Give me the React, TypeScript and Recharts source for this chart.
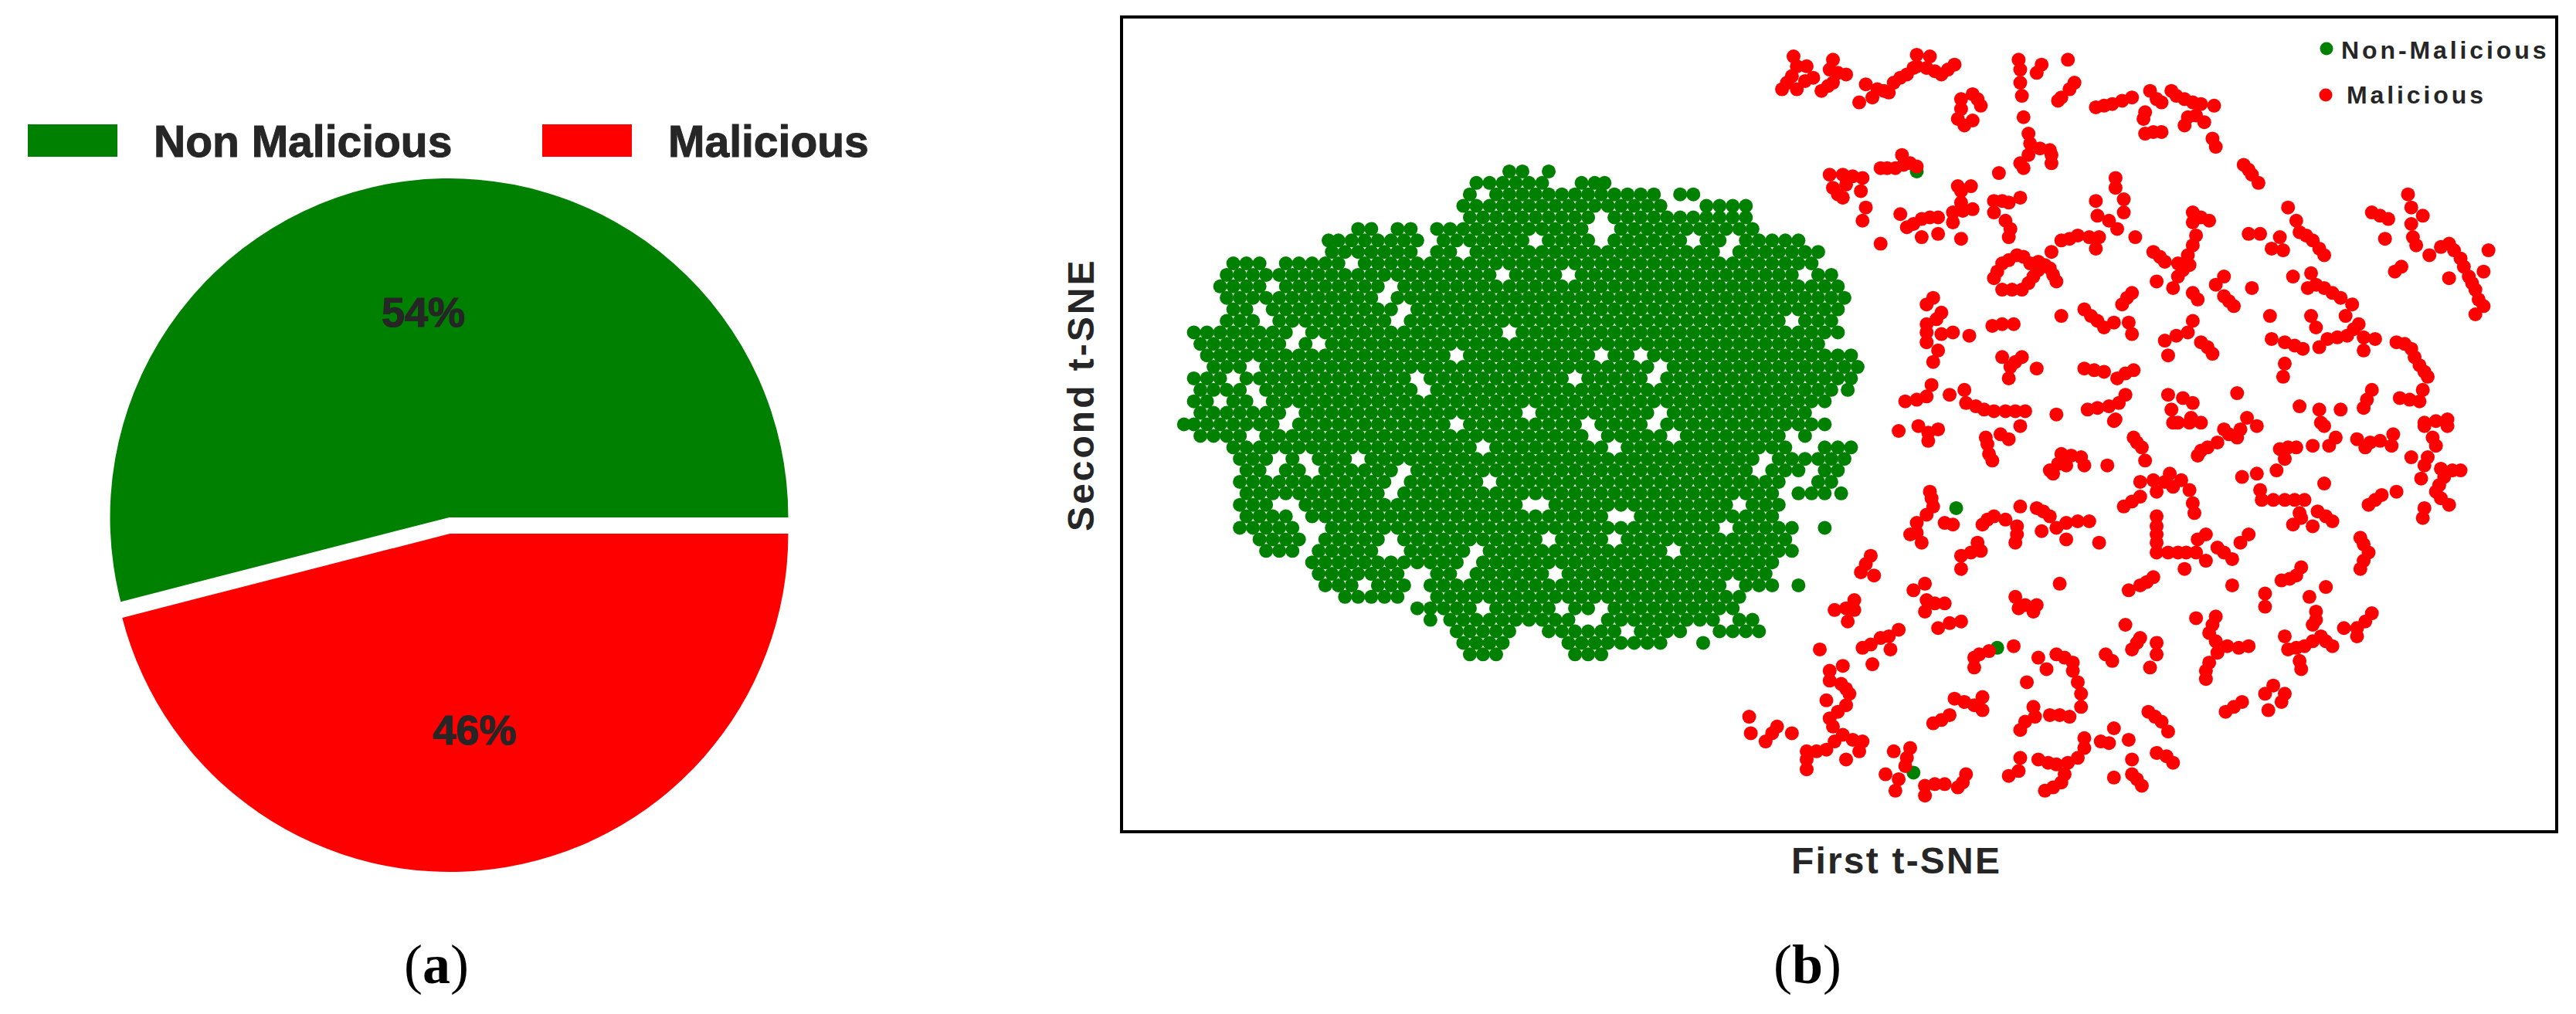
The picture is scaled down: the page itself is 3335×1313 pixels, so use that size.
import React from "react";
import {
  Cell,
  Legend,
  Pie,
  PieChart,
  ReferenceArea,
  Scatter,
  ScatterChart,
  XAxis,
  YAxis,
} from "recharts";

const GREEN = "#008000";
const RED = "#ff0000";
const INK = "#262626";

const shareNames = ["Non Malicious", "Malicious"];
const shareValues = [54, 46];
const labelRadius = [0.61, 0.585];
const scatterNames = ["Non-Malicious", "Malicious"];

// t-SNE embedding. Arbitrary units, origin at top left of the frame.
// Each row is [y, x, x, x, ...]
const nonMaliciousRows: number[][] = [
  [94, 236, 244, 260],
  [101, 216, 224, 232, 240, 248, 256, 280, 288, 294],
  [108, 212, 228, 236, 244, 252, 260, 268, 276, 284, 292, 300, 308, 316, 324, 340, 348],
  [115, 208, 216, 224, 232, 240, 248, 256, 264, 272, 280, 288, 296, 304, 312, 320, 328, 356, 364, 372, 380],
  [122, 212, 220, 228, 236, 244, 252, 260, 268, 276, 284, 300, 308, 316, 324, 332, 340, 348, 356, 364, 372, 380],
  [129, 144, 152, 168, 176, 192, 200, 208, 216, 224, 232, 240, 248, 256, 264, 272, 280, 304, 312, 320, 328, 336, 344, 352, 360, 368, 376, 384],
  [136, 126, 132, 140, 148, 156, 164, 172, 180, 196, 204, 212, 220, 228, 236, 244, 260, 268, 276, 284, 300, 308, 316, 324, 332, 340, 356, 364, 380, 388, 396, 404, 412],
  [143, 128, 136, 144, 152, 160, 168, 176, 192, 200, 216, 224, 232, 240, 248, 256, 264, 272, 280, 288, 296, 304, 312, 320, 328, 336, 344, 352, 360, 376, 384, 392, 400, 408, 416, 424],
  [150, 68, 76, 84, 100, 108, 116, 124, 132, 148, 156, 164, 172, 180, 188, 196, 204, 212, 220, 228, 236, 244, 252, 260, 268, 276, 284, 292, 300, 308, 316, 324, 332, 340, 348, 356, 364, 372, 380, 388, 396, 404, 412, 420],
  [157, 64, 72, 80, 88, 96, 104, 112, 120, 128, 136, 144, 152, 160, 168, 176, 184, 192, 200, 208, 216, 224, 240, 248, 256, 264, 280, 288, 296, 304, 312, 320, 328, 336, 344, 352, 360, 368, 376, 384, 392, 400, 408, 424, 432],
  [164, 60, 68, 76, 84, 100, 108, 116, 124, 132, 140, 148, 156, 172, 180, 188, 196, 204, 212, 220, 228, 236, 244, 252, 260, 268, 276, 284, 292, 300, 308, 316, 324, 332, 340, 348, 356, 364, 372, 380, 388, 396, 404, 412, 420, 428, 436],
  [171, 64, 72, 80, 88, 96, 104, 112, 120, 128, 136, 144, 152, 168, 176, 184, 192, 200, 208, 216, 224, 232, 240, 248, 256, 264, 272, 280, 288, 296, 304, 312, 320, 328, 336, 344, 352, 360, 368, 376, 384, 392, 400, 408, 416, 424, 432, 440],
  [178, 68, 76, 92, 100, 108, 116, 124, 132, 140, 148, 156, 164, 180, 188, 196, 204, 212, 220, 228, 236, 244, 252, 260, 268, 276, 284, 292, 300, 308, 316, 324, 332, 340, 348, 356, 364, 372, 380, 388, 396, 404, 412, 420, 428, 436],
  [185, 64, 72, 80, 96, 104, 112, 120, 128, 136, 144, 152, 160, 176, 184, 192, 200, 208, 216, 224, 232, 240, 248, 256, 264, 272, 280, 288, 296, 304, 312, 320, 328, 336, 344, 352, 360, 368, 376, 384, 392, 400, 416, 424, 432],
  [192, 44, 52, 60, 68, 76, 84, 92, 100, 116, 124, 132, 140, 148, 156, 164, 172, 180, 188, 196, 204, 212, 220, 228, 244, 252, 260, 268, 276, 284, 292, 300, 308, 316, 324, 332, 340, 348, 356, 364, 372, 380, 388, 396, 404, 412, 420, 428, 436],
  [199, 48, 56, 64, 72, 80, 88, 96, 112, 128, 136, 144, 152, 160, 168, 176, 184, 192, 200, 208, 216, 224, 232, 240, 248, 256, 264, 272, 280, 288, 296, 304, 312, 320, 328, 336, 344, 352, 360, 368, 376, 384, 392, 400, 408, 416, 424],
  [206, 52, 60, 68, 76, 84, 92, 100, 108, 116, 124, 132, 140, 148, 156, 164, 172, 180, 188, 196, 212, 220, 228, 236, 244, 252, 260, 268, 276, 284, 300, 308, 324, 332, 340, 348, 356, 364, 372, 380, 388, 396, 404, 412, 420, 428, 436, 444],
  [213, 56, 64, 72, 88, 96, 104, 112, 120, 128, 136, 144, 152, 160, 168, 176, 184, 192, 200, 208, 216, 224, 232, 240, 248, 256, 264, 272, 280, 288, 296, 304, 312, 320, 336, 344, 352, 360, 368, 376, 384, 392, 400, 408, 416, 424, 432, 440, 448],
  [220, 44, 52, 60, 76, 84, 92, 100, 108, 116, 124, 132, 140, 148, 156, 164, 172, 188, 196, 204, 212, 220, 228, 236, 244, 252, 260, 268, 284, 292, 300, 308, 316, 332, 340, 348, 356, 364, 372, 380, 388, 396, 404, 412, 420, 428, 436, 444],
  [227, 48, 56, 64, 72, 88, 96, 104, 112, 120, 128, 136, 144, 152, 160, 168, 176, 192, 200, 208, 216, 224, 232, 240, 248, 256, 264, 272, 280, 288, 296, 304, 312, 320, 328, 336, 344, 352, 360, 368, 376, 384, 392, 400, 408, 416, 424, 432, 442],
  [234, 44, 52, 68, 76, 92, 100, 108, 116, 124, 132, 140, 148, 156, 164, 172, 180, 188, 196, 204, 212, 220, 228, 236, 244, 252, 260, 268, 276, 284, 292, 300, 308, 316, 324, 332, 340, 348, 356, 364, 372, 380, 388, 396, 404, 412, 420, 428],
  [241, 48, 56, 64, 72, 80, 88, 96, 112, 120, 128, 136, 144, 152, 160, 168, 176, 184, 192, 200, 208, 216, 224, 232, 240, 256, 264, 272, 280, 288, 296, 304, 312, 320, 336, 344, 352, 360, 368, 376, 384, 392, 400, 408, 416],
  [248, 38, 44, 52, 60, 68, 76, 84, 92, 108, 116, 124, 132, 140, 148, 156, 164, 172, 180, 188, 196, 212, 220, 228, 236, 244, 252, 260, 268, 276, 292, 300, 308, 316, 332, 340, 348, 356, 364, 372, 380, 388, 396, 404, 412, 420, 428],
  [255, 48, 56, 64, 72, 88, 96, 104, 112, 120, 128, 136, 144, 152, 160, 168, 176, 184, 192, 200, 208, 216, 224, 232, 240, 248, 256, 264, 272, 280, 296, 304, 312, 320, 328, 344, 352, 360, 368, 376, 384, 392, 400, 416],
  [262, 68, 76, 84, 92, 100, 108, 116, 124, 132, 140, 148, 156, 164, 172, 180, 188, 196, 204, 212, 228, 236, 244, 252, 260, 268, 276, 284, 292, 308, 316, 324, 332, 340, 348, 356, 364, 372, 380, 388, 396, 404, 428, 436, 444],
  [269, 72, 80, 88, 104, 120, 128, 136, 152, 160, 168, 176, 184, 192, 200, 208, 216, 224, 232, 240, 248, 256, 264, 272, 280, 288, 296, 304, 312, 320, 328, 336, 344, 352, 360, 368, 376, 384, 400, 408, 416, 424, 432, 440],
  [276, 76, 84, 100, 108, 124, 132, 140, 148, 156, 164, 180, 188, 196, 204, 212, 220, 228, 236, 244, 252, 260, 268, 276, 284, 292, 300, 308, 316, 324, 332, 340, 348, 356, 364, 372, 380, 396, 404, 412, 428, 436],
  [283, 72, 80, 88, 96, 104, 112, 120, 128, 136, 144, 152, 160, 176, 184, 192, 200, 208, 216, 232, 240, 248, 256, 264, 272, 280, 288, 296, 304, 312, 320, 328, 336, 344, 352, 360, 368, 376, 384, 392, 400, 424, 432],
  [290, 76, 84, 92, 100, 108, 116, 124, 132, 140, 148, 156, 172, 180, 188, 196, 204, 212, 220, 228, 236, 244, 252, 260, 268, 276, 284, 292, 300, 308, 316, 324, 332, 340, 348, 356, 364, 372, 380, 388, 396, 412, 420, 428, 438],
  [297, 72, 80, 88, 112, 120, 128, 136, 144, 152, 160, 168, 176, 184, 192, 200, 208, 216, 224, 232, 240, 264, 272, 280, 288, 296, 304, 312, 320, 328, 336, 344, 352, 360, 368, 384, 392, 400],
  [304, 76, 84, 92, 100, 116, 124, 132, 140, 148, 156, 164, 172, 180, 188, 196, 204, 212, 220, 228, 236, 244, 252, 260, 268, 276, 284, 292, 316, 324, 332, 340, 348, 356, 364, 372, 380, 388, 396],
  [311, 72, 80, 88, 96, 104, 128, 136, 144, 152, 160, 168, 176, 184, 192, 200, 208, 216, 224, 232, 240, 248, 256, 264, 272, 280, 288, 296, 304, 312, 320, 328, 336, 344, 352, 360, 376, 384, 392, 400, 408, 428],
  [318, 84, 92, 100, 108, 124, 132, 140, 148, 156, 172, 180, 188, 196, 204, 212, 220, 228, 236, 244, 252, 268, 276, 284, 292, 308, 316, 324, 332, 340, 348, 356, 364, 372, 380, 388, 396, 404],
  [325, 88, 96, 104, 120, 128, 136, 144, 152, 176, 184, 192, 200, 208, 224, 232, 240, 248, 256, 264, 272, 280, 288, 296, 304, 312, 320, 328, 344, 352, 360, 368, 376, 384, 392, 400, 408],
  [332, 116, 124, 132, 140, 148, 156, 164, 172, 180, 188, 196, 204, 220, 228, 236, 244, 252, 260, 268, 276, 284, 292, 300, 308, 316, 324, 332, 340, 348, 356, 364, 372, 380, 388, 396],
  [339, 120, 128, 136, 144, 152, 160, 168, 192, 200, 216, 224, 232, 240, 248, 256, 272, 280, 288, 296, 304, 312, 320, 328, 336, 344, 352, 360, 368, 376, 384, 392],
  [346, 124, 132, 140, 156, 164, 172, 188, 196, 204, 212, 220, 228, 236, 244, 252, 260, 268, 276, 284, 292, 300, 308, 316, 324, 332, 340, 348, 356, 364, 380, 388, 396, 412],
  [353, 136, 144, 152, 160, 168, 192, 200, 208, 216, 224, 232, 240, 248, 256, 264, 272, 280, 288, 296, 304, 312, 320, 328, 336, 344, 352, 360, 368, 376],
  [360, 180, 188, 196, 204, 212, 228, 236, 244, 252, 260, 276, 284, 300, 308, 316, 324, 332, 340, 348, 356, 364, 372],
  [367, 188, 200, 208, 216, 224, 232, 240, 248, 256, 264, 272, 296, 304, 312, 320, 328, 336, 344, 352, 360, 376, 384],
  [374, 204, 212, 220, 228, 236, 260, 268, 276, 284, 292, 300, 316, 324, 332, 340, 364, 372, 380, 388],
  [381, 208, 216, 224, 232, 272, 280, 288, 296, 304, 312, 320, 328, 354],
  [388, 212, 220, 228, 276, 284, 292],
];

// points that sit almost hidden under the red ones, plus one stray
const nonMaliciousStrays: number[][] = [[484, 94], [533, 384], [482, 460], [508, 299]];

const maliciousPoints: number[][] = [
  [409, 24], [411, 30], [408, 36], [405, 40], [402, 44], [411, 44], [417, 30], [421, 37], [416, 39], [426, 45], [430, 42], [433, 40], [433, 26], [431, 32], [436, 34], [441, 35],
  [449, 52], [453, 41], [460, 44], [457, 49], [464, 45], [467, 46], [470, 40], [474, 37], [478, 35], [482, 31], [484, 30], [484, 23], [492, 24], [490, 31], [495, 33], [499, 35], [503, 32], [507, 29],
  [511, 50], [518, 47], [521, 50], [523, 54], [509, 62], [518, 63], [513, 66], [511, 56],
  [546, 26], [547, 32], [547, 40], [548, 48], [549, 61], [557, 34], [560, 29], [576, 26], [580, 40], [577, 44], [572, 49], [570, 51],
  [552, 71], [553, 77], [559, 80], [565, 81], [566, 89], [552, 84], [547, 89], [549, 92], [534, 95], [566, 84],
  [593, 55], [598, 54], [603, 53], [609, 51], [615, 49], [623, 58], [626, 45], [630, 50], [633, 52], [639, 45], [642, 48], [647, 50], [652, 52], [657, 53], [665, 54], [649, 61], [647, 66], [659, 64], [654, 60], [623, 71], [628, 70], [633, 70], [664, 74], [666, 79], [622, 62],
  [683, 90], [686, 93], [688, 96], [692, 101],
  [431, 96], [439, 96], [433, 104], [436, 108], [439, 110], [445, 97], [451, 98], [450, 106], [453, 116], [451, 124], [441, 102], [462, 92], [471, 92], [475, 84], [484, 91], [480, 89], [476, 90], [466, 92],
  [462, 138], [474, 120], [478, 128], [487, 123], [482, 126], [487, 134], [497, 132], [511, 135], [492, 122], [497, 122], [506, 119], [512, 118], [518, 117], [511, 113], [511, 106], [509, 103], [517, 103], [506, 125],
  [531, 112], [536, 112], [540, 113], [547, 110], [531, 119], [538, 124], [541, 129], [540, 134],
  [593, 112], [594, 121], [601, 124], [606, 129], [605, 98], [605, 104], [610, 111], [610, 119], [617, 134],
  [593, 141], [595, 134], [589, 134], [582, 133], [577, 135], [572, 136], [566, 143], [558, 149], [565, 153], [569, 161], [567, 157],
  [545, 145], [540, 148], [536, 150], [533, 155], [531, 159], [536, 166], [542, 166], [548, 166], [552, 162], [555, 158], [558, 154], [562, 151], [553, 150], [549, 146],
  [652, 119], [662, 124], [657, 122], [652, 125], [654, 133], [652, 139], [649, 145], [628, 143], [632, 146], [635, 149], [643, 150], [650, 151], [646, 154], [643, 158], [640, 165], [630, 161], [652, 168], [655, 172],
  [671, 158], [666, 163], [671, 170], [674, 173], [677, 176], [688, 165],
  [710, 116], [715, 124], [686, 132], [693, 132], [705, 134], [700, 141], [707, 142], [717, 131], [721, 133], [725, 136], [729, 141], [732, 145],
  [783, 108], [785, 116], [792, 121], [761, 119], [766, 121], [771, 123], [785, 126], [786, 134], [788, 139], [769, 135], [779, 152], [775, 155],
  [796, 145], [803, 140], [808, 138], [811, 142], [815, 147], [817, 152], [832, 142],
  [808, 159], [820, 158], [829, 155], [822, 162], [824, 166], [826, 172], [829, 176], [824, 181],
  [713, 158], [724, 156], [722, 165], [727, 163], [732, 165], [737, 168], [742, 171], [749, 175], [745, 182], [699, 182],
  [724, 182], [727, 189], [753, 187], [750, 190], [746, 194], [740, 195], [734, 196], [729, 201], [756, 195], [763, 196], [756, 203],
  [700, 196], [708, 198], [714, 200], [719, 202], [708, 211], [707, 219],
  [776, 198], [781, 199], [785, 202], [787, 207], [790, 212], [793, 216], [795, 219], [792, 227], [790, 234], [784, 233], [778, 232],
  [761, 227], [758, 233], [756, 238], [742, 239], [729, 239], [717, 237], [730, 247], [793, 247], [800, 246], [807, 245],
  [494, 171], [490, 175], [499, 180], [496, 184], [490, 187], [490, 192], [490, 198], [499, 193], [506, 192], [516, 194], [530, 188], [536, 187], [543, 187], [497, 203], [494, 210],
  [572, 182], [586, 178], [590, 182], [594, 185], [604, 186], [613, 186], [609, 175], [612, 171], [615, 168], [615, 193], [598, 189],
  [652, 185], [649, 192], [642, 194], [635, 197], [637, 206], [657, 198], [661, 201], [664, 205],
  [536, 207], [548, 207], [541, 213], [540, 220], [557, 214], [544, 210],
  [586, 214], [592, 215], [598, 216], [606, 220], [611, 217], [616, 215],
  [493, 224], [490, 231], [477, 234], [484, 233], [504, 230], [513, 227], [514, 235], [520, 237], [525, 239], [531, 240], [538, 240], [544, 240], [550, 240],
  [569, 242], [588, 239], [594, 238], [601, 237], [611, 230], [607, 235], [605, 245],
  [637, 230], [639, 239], [652, 235], [651, 244], [640, 247], [646, 232], [679, 229], [685, 244],
  [473, 252], [485, 249], [491, 253], [497, 251], [491, 258], [547, 249], [535, 254], [526, 256], [540, 257], [528, 266], [530, 270], [527, 260],
  [604, 246], [643, 247], [650, 247], [657, 247], [671, 251], [681, 251], [691, 249], [679, 256], [667, 259], [661, 262], [657, 264], [655, 267], [674, 254],
  [732, 249], [739, 256], [725, 261], [735, 261], [752, 257], [757, 262], [766, 258], [774, 254], [773, 261], [760, 259],
  [793, 249], [807, 249], [798, 256], [800, 261],
  [616, 256], [618, 259], [621, 262], [623, 270],
  [705, 263], [715, 262], [708, 269], [703, 276], [710, 262],
  [572, 266], [584, 268], [565, 276], [575, 273], [586, 273], [567, 278], [578, 267], [570, 272], [600, 273],
  [785, 268], [795, 268], [793, 273], [803, 275], [815, 276], [810, 276], [791, 281], [805, 280], [800, 289], [803, 293], [808, 297], [793, 299], [792, 305], [802, 285],
  [638, 278], [628, 282], [620, 283], [630, 289], [640, 286], [620, 292], [615, 295], [610, 298], [650, 288], [652, 296], [653, 302], [635, 283], [645, 282],
  [682, 280], [691, 278], [693, 288], [694, 294], [701, 294], [708, 294], [714, 294], [720, 294], [717, 302], [728, 301], [733, 304], [737, 307], [725, 310], [713, 309], [718, 305], [732, 284],
  [759, 297], [763, 294], [767, 291], [776, 289], [754, 317], [756, 321], [759, 326], [756, 331], [754, 336],
  [492, 289], [493, 293], [494, 298], [490, 303], [484, 308], [480, 315], [487, 320], [484, 314], [501, 308], [506, 309],
  [547, 298], [557, 299], [561, 301], [565, 304], [560, 313], [569, 311], [575, 308], [582, 307], [589, 307], [575, 318], [595, 320],
  [531, 304], [527, 306], [524, 309], [538, 306], [545, 310], [545, 315], [544, 320], [521, 320], [523, 325], [517, 326], [511, 328], [511, 336],
  [630, 304], [630, 310], [630, 315], [630, 320], [630, 326], [637, 326], [643, 326], [648, 326], [654, 326], [655, 318], [660, 315], [660, 331], [667, 323], [671, 326], [676, 330], [681, 320], [686, 315], [647, 336],
  [456, 328], [453, 333], [450, 338], [458, 340],
  [489, 345], [482, 349], [490, 355], [489, 362], [501, 357], [495, 357], [504, 369], [497, 372], [511, 368],
  [441, 360], [434, 361], [446, 355], [442, 368], [446, 361],
  [571, 345], [544, 353], [546, 360], [557, 358], [555, 362], [550, 358],
  [628, 341], [624, 344], [620, 346], [613, 349],
  [676, 346], [696, 351], [696, 359], [706, 343], [715, 340], [711, 342], [718, 335], [733, 347], [723, 353], [727, 362], [727, 367], [725, 370], [730, 377], [733, 380], [737, 383],
  [708, 377], [710, 385], [715, 384], [720, 383], [725, 380], [717, 392], [718, 397],
  [744, 372], [752, 372], [757, 368], [761, 363], [752, 377],
  [611, 370], [620, 378], [618, 381], [615, 385], [630, 381], [630, 388], [626, 396], [599, 388], [603, 392],
  [654, 366], [666, 365], [662, 375], [666, 380], [673, 383], [680, 384], [686, 383], [667, 387], [662, 393], [660, 403], [660, 398], [664, 370],
  [473, 373], [467, 377], [462, 378], [468, 385], [451, 384], [456, 382], [425, 385], [457, 394],
  [439, 395], [431, 398], [431, 404], [438, 406], [441, 409], [443, 412], [429, 416], [441, 419], [436, 423], [431, 427], [433, 432],
  [543, 383], [528, 386], [522, 388], [519, 390], [519, 396],
  [558, 390], [563, 397], [569, 388], [574, 390], [579, 393], [579, 398],
  [551, 405], [582, 405], [584, 412], [584, 420], [577, 426], [571, 425], [565, 425], [555, 420], [556, 426], [547, 434], [550, 429],
  [507, 415], [513, 417], [519, 419], [524, 414], [524, 422], [504, 425], [499, 428], [494, 430],
  [701, 407], [708, 412], [706, 417], [696, 412], [682, 417], [677, 420], [672, 423], [698, 422],
  [625, 423], [629, 426], [633, 429], [637, 435], [604, 433], [613, 440],
  [382, 426], [383, 436], [392, 441], [396, 436], [399, 432], [408, 436],
  [417, 447], [417, 452], [417, 458], [423, 447], [429, 446], [434, 441], [439, 437], [445, 440], [451, 441], [449, 447], [441, 452],
  [470, 447], [480, 445], [478, 451], [477, 456], [465, 461], [473, 464], [471, 471],
  [489, 468], [489, 474], [495, 467], [501, 467], [509, 469], [514, 461], [512, 466],
  [547, 451], [540, 462], [546, 459], [558, 452], [564, 454], [569, 455], [576, 454], [582, 451], [586, 445], [586, 439], [596, 441], [601, 442], [574, 461], [572, 466], [567, 469], [562, 471],
  [630, 448], [636, 450], [640, 454], [615, 452], [615, 461], [604, 463], [618, 464], [621, 468],
];

const nonMalicious = [
  ...nonMaliciousRows.flatMap(([y, ...xs]) => xs.map((x) => ({ x, y }))),
  ...nonMaliciousStrays.map(([x, y]) => ({ x, y })),
];
const malicious = maliciousPoints.map(([x, y]) => ({ x, y }));
const shareData = shareNames.map((name, i) => ({ name, value: shareValues[i] }));

const RADIAN = Math.PI / 180;

const percentLabel = (only: number) => (props: any) => {
  if (props.index !== only) return null;
  const r = props.outerRadius * labelRadius[only];
  return (
    <text
      x={props.cx + r * Math.cos(-props.midAngle * RADIAN)}
      y={props.cy + r * Math.sin(-props.midAngle * RADIAN)}
      textAnchor="middle"
      dominantBaseline="central"
      fontFamily="Liberation Sans"
      fontWeight="bold"
      fontSize={54}
      fill={INK}
      stroke={INK}
      strokeWidth={1.2}
    >
      {shareValues[props.index]}%
    </text>
  );
};

const dot = (fill: string) => (props: any) => <circle cx={props.cx} cy={props.cy} r={9} fill={fill} />;

function PieLegend() {
  return (
    <svg width={1100} height={90} style={{ display: "block" }}>
      <rect x={0} y={20} width={116} height={42} fill={GREEN} />
      <text x={163} y={62} fontFamily="Liberation Sans" fontWeight="bold" fontSize={57} fill={INK} stroke={INK} strokeWidth={1}>
        {shareNames[0]}
      </text>
      <rect x={666} y={20} width={116} height={42} fill={RED} />
      <text x={829} y={62} fontFamily="Liberation Sans" fontWeight="bold" fontSize={57} fill={INK} stroke={INK} strokeWidth={1}>
        {shareNames[1]}
      </text>
    </svg>
  );
}

function ScatterLegend() {
  return (
    <svg width={320} height={120} style={{ display: "block" }}>
      <circle cx={12} cy={23} r={8.5} fill={GREEN} />
      <text x={31} y={36} fontFamily="Liberation Sans" fontWeight="bold" fontSize={32} letterSpacing={3.9} fill={INK}>
        {scatterNames[0]}
      </text>
      <circle cx={11} cy={83} r={8.5} fill={RED} />
      <text x={38} y={94} fontFamily="Liberation Sans" fontWeight="bold" fontSize={32} letterSpacing={3.9} fill={INK}>
        {scatterNames[1]}
      </text>
    </svg>
  );
}

function Caption({ x, letter }: { x: number; letter: string }) {
  return (
    <text x={x} y={1273} textAnchor="middle" fontFamily="Liberation Serif" fontSize={72} fill="#000">
      (<tspan fontWeight="bold">{letter}</tspan>)
    </text>
  );
}

export default function App() {
  return (
    <div style={{ position: "absolute", left: 0, top: 0, width: 3335, height: 1313, background: "#fff" }}>
      <div style={{ position: "absolute", left: 0, top: 0 }}>
        <PieChart width={1340} height={1313} margin={{ top: 0, right: 0, bottom: 0, left: 0 }}>
          <Legend
            content={<PieLegend />}
            layout="horizontal"
            verticalAlign="middle"
            wrapperStyle={{ left: 36, top: 141, width: 1100 }}
          />
          <Pie
            data={shareData}
            dataKey="value"
            nameKey="name"
            cx={581.5}
            cy={670}
            outerRadius={439}
            startAngle={0}
            endAngle={360}
            stroke="none"
            label={percentLabel(0)}
            labelLine={false}
            isAnimationActive={false}
          >
            <Cell fill={GREEN} />
            <Cell fill="none" />
          </Pie>
          <Pie
            data={shareData}
            dataKey="value"
            nameKey="name"
            cx={582.5}
            cy={691}
            outerRadius={438}
            startAngle={0}
            endAngle={360}
            stroke="none"
            label={percentLabel(1)}
            labelLine={false}
            isAnimationActive={false}
          >
            <Cell fill="none" />
            <Cell fill={RED} />
          </Pie>
          <Caption x={565} letter="a" />
        </PieChart>
      </div>
      <div style={{ position: "absolute", left: 1340, top: 0 }}>
        <ScatterChart width={1995} height={1313} margin={{ top: 22, right: 25, bottom: 235, left: 111 }}>
          <XAxis
            type="number"
            dataKey="x"
            domain={[0, 873.5]}
            height={1}
            tick={false}
            tickLine={false}
            axisLine={false}
            label={{
              value: "First t-SNE",
              position: "bottom",
              offset: 19,
              dx: 74,
              fontFamily: "Liberation Sans",
              fontWeight: "bold",
              fontSize: 48,
              fill: INK,
              letterSpacing: 2.2,
            }}
          />
          <YAxis
            type="number"
            dataKey="y"
            domain={[0, 496]}
            reversed
            width={1}
            tick={false}
            tickLine={false}
            axisLine={false}
            label={{
              value: "Second t-SNE",
              angle: -90,
              position: "left",
              offset: 52,
              dy: -215,
              fontFamily: "Liberation Sans",
              fontWeight: "bold",
              fontSize: 48,
              fill: INK,
              letterSpacing: 3,
            }}
          />
          <ReferenceArea
            x1={0}
            x2={873.5}
            y1={0}
            y2={496}
            fill="none"
            stroke="#000"
            strokeWidth={4}
            ifOverflow="visible"
          />
          <Legend
            content={<ScatterLegend />}
            layout="horizontal"
            verticalAlign="middle"
            wrapperStyle={{ left: 1660, top: 40, width: 320 }}
          />
          <Scatter name={scatterNames[0]} data={nonMalicious} fill={GREEN} shape={dot(GREEN)} isAnimationActive={false} />
          <Scatter name={scatterNames[1]} data={malicious} fill={RED} shape={dot(RED)} isAnimationActive={false} />
          <Caption x={1000} letter="b" />
        </ScatterChart>
      </div>
    </div>
  );
}
